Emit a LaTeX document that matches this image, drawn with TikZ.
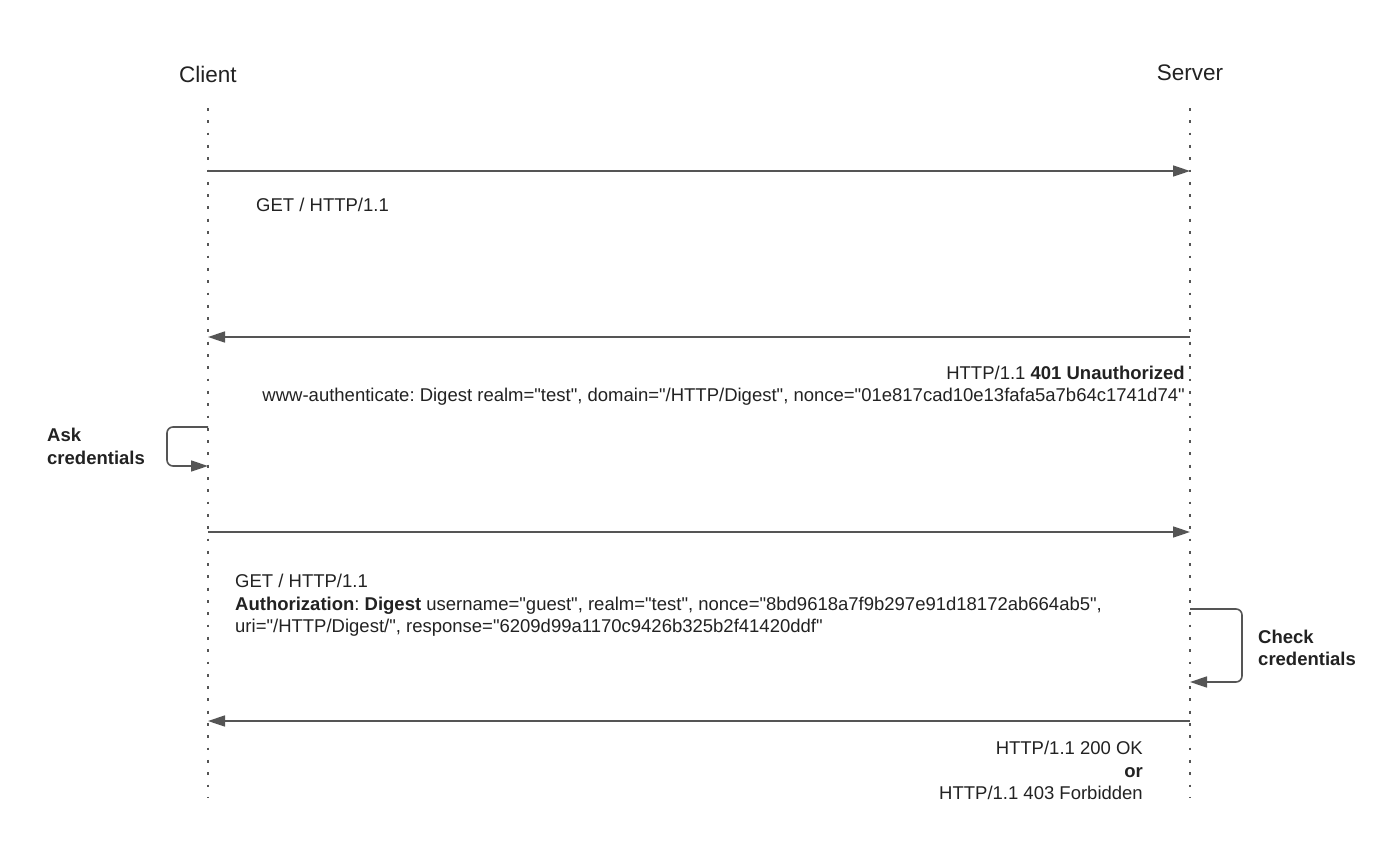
\documentclass[tikz,border=0pt]{standalone}
\usepackage{fontspec}
\setmainfont{Liberation Sans}[Ligatures=TeXOff]
\usetikzlibrary{arrows.meta}
\definecolor{linec}{HTML}{555555}
\definecolor{txt}{HTML}{222222}
\frenchspacing
\begin{document}
\begin{tikzpicture}[x=1pt,y=-1pt,
 lifeline/.style={draw=linec, line width=1.4pt, dash pattern=on 2.8pt off 9.5pt},
 msg/.style={draw=linec, line width=1.6pt, -{Triangle[length=17pt,width=11pt]}},
 loopmsg/.style={msg, rounded corners=6pt},
 title/.style={font=\fontsize{22.5}{27}\selectfont, text=txt, inner sep=0pt},
 lbl/.style={font=\fontsize{18.5}{22.5}\selectfont, text=txt, inner sep=0pt},
 blbl/.style={lbl, font=\fontsize{18.5}{22.5}\selectfont\bfseries},
]
\useasboundingbox[fill=white] (0,0) rectangle (1400,860);

% participants
\node[title, anchor=base] (client) at (208,82) {Client};
\node[title, anchor=base] (server) at (1190,80) {Server};

\coordinate (ctop) at (208,108);
\coordinate (cbot) at (208,798);
\coordinate (stop) at (1190,108);
\coordinate (sbot) at (1190,798);
\draw[lifeline] (ctop) -- (cbot);
\draw[lifeline] (stop) -- (sbot);

% message 1
\coordinate (c1) at (208,171);
\coordinate (s1) at (1190,171);
\draw[msg] (c1) -- (s1);
\node[lbl, anchor=base west] (m1) at (256,211.5) {GET / HTTP/1.1};

% message 2
\coordinate (s2) at (1190,337);
\coordinate (c2) at (208,337);
\draw[msg] (s2) -- (c2);
\node[lbl, anchor=base east] (m2a) at (1185,379) {HTTP/1.1 \textbf{401 Unauthorized}};
\node[lbl, anchor=base east] (m2b) at (1185,401.5) {www-authenticate: Digest realm="test", domain="/HTTP/Digest", nonce="01e817cad10e13fafa5a7b64c1741d74"};

% ask credentials
\coordinate (a1) at (208,427);
\coordinate (a2) at (208,466);
\draw[loopmsg] (a1) -- ++(-41,0) |- (a2);
\node[blbl, anchor=base west] (ask1) at (47,441) {Ask};
\node[blbl, anchor=base west] (ask2) at (47,464) {credentials};

% message 3
\coordinate (c3) at (208,532);
\coordinate (s3) at (1190,532);
\draw[msg] (c3) -- (s3);
\node[lbl, anchor=base west] (m3a) at (235,587) {GET / HTTP/1.1};
\node[lbl, anchor=base west] (m3b) at (235,610) {\textbf{Authorization}: \textbf{Digest} username="guest", realm="test", nonce="8bd9618a7f9b297e91d18172ab664ab5",};
\node[lbl, anchor=base west] (m3c) at (235,632.5) {uri="/HTTP/Digest/", response="6209d99a1170c9426b325b2f41420ddf"};

% check credentials
\coordinate (k1) at (1190,609);
\coordinate (k2) at (1190,682);
\draw[loopmsg] (k1) -- ++(52,0) |- (k2);
\node[blbl, anchor=base west] (chk1) at (1258,643) {Check};
\node[blbl, anchor=base west] (chk2) at (1258,665) {credentials};

% message 4
\coordinate (s4) at (1190,721);
\coordinate (c4) at (208,721);
\draw[msg] (s4) -- (c4);
\node[lbl, anchor=base east] (m4a) at (1143,754) {HTTP/1.1 200 OK};
\node[blbl, anchor=base east] (m4b) at (1143,777) {or};
\node[lbl, anchor=base east] (m4c) at (1143,799) {HTTP/1.1 403 Forbidden};
\end{tikzpicture}
\end{document}
